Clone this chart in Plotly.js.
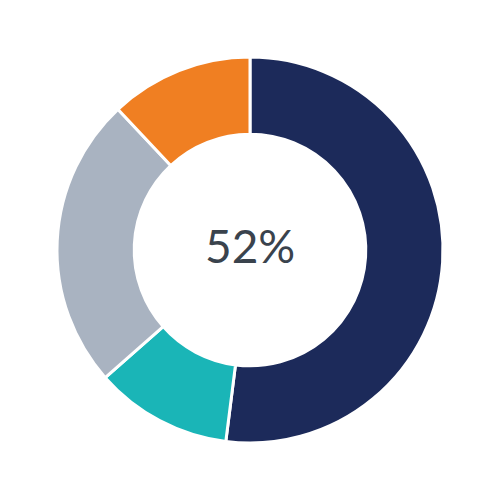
<!DOCTYPE html>
<html>
<head>
<meta charset="utf-8">
<script src="https://cdn.plot.ly/plotly-3.0.1.min.js"></script>
<style>
  html, body { margin: 0; padding: 0; background: #fff; }
  #chart { width: 500px; height: 500px; }
</style>
</head>
<body>
<div id="chart"></div>
<script>
// Segments, clockwise from 12 o'clock
const labels = ['A', 'B', 'C', 'D'];
const values = [52, 11.5, 24.5, 12];
const colors = ['#1c2a5a', '#1ab5b7', '#a9b3c1', '#f07f22'];
const centerText = '52%';

const data = [{
    type: 'pie',
    labels: labels,
    values: values,
    hole: 0.6,
    sort: false,
    direction: 'clockwise',
    rotation: 0,
    textinfo: 'none',
    hoverinfo: 'label+percent',
    marker: { colors: colors, line: { color: '#ffffff', width: 3 } },
    showlegend: false
}];

const layout = {
    width: 500,
    height: 500,
    margin: { t: 57, b: 57, l: 57, r: 57 },
    paper_bgcolor: '#ffffff',
    showlegend: false,
    annotations: [{
        text: centerText, x: 0.5, y: 0.5, xref: 'paper', yref: 'paper',
        showarrow: false, yshift: 5,
        font: { family: 'Lato, sans-serif', size: 46, color: '#3a434d' }
    }]
};

Plotly.newPlot('chart', data, layout, { displayModeBar: false, staticPlot: true });
</script>
</body>
</html>
